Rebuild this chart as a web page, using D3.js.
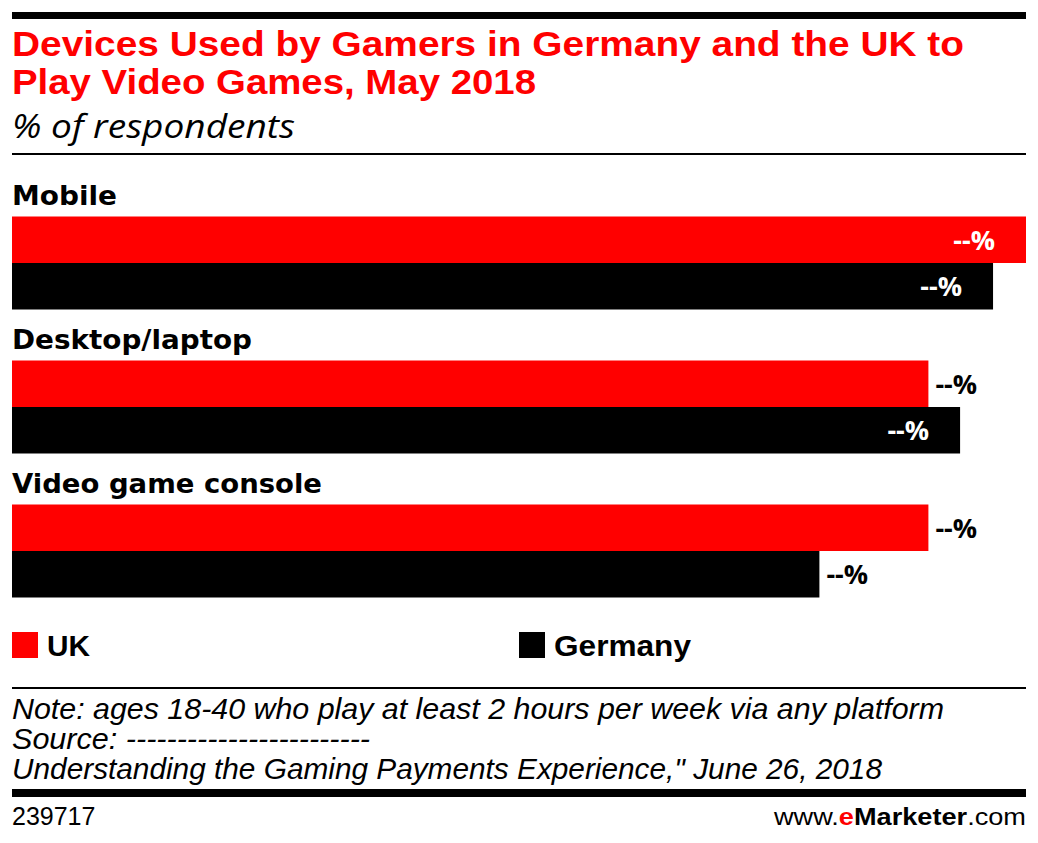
<!DOCTYPE html>
<html><head><meta charset="utf-8">
<script src="https://cdn.jsdelivr.net/npm/d3@7"></script>
<style>body{margin:0;background:#fff}svg{display:block}</style>
</head><body>
<script>
const categories = ["Mobile", "Desktop/laptop", "Video game console"];
const seriesNames = ["UK", "Germany"];
const ukValues = [80, 72.3, 72.3];
const germanyValues = [77.4, 74.8, 63.7];
const valueLabels = ["--%", "--%", "--%"];
const colors = ["#ff0000", "#000000"];

const W = 1038, H = 843, L = 12, R = 1026;
const svg = d3.select("body").append("svg").attr("width", W).attr("height", H);
const bold = "'Liberation Sans', Arial, sans-serif";
const narrow = "'Liberation Sans Narrow', 'Liberation Sans', sans-serif";

function fit(sel, len) {
  return sel.attr("textLength", len).attr("lengthAdjust", "spacingAndGlyphs");
}

svg.append("rect").attr("x", L).attr("y", 12).attr("width", R - L).attr("height", 7).attr("fill", "#000");
const title = svg.append("g").attr("font-family", bold).attr("font-weight", "bold").attr("font-size", 35).attr("fill", "#ff0000");
fit(title.append("text").attr("x", L).attr("y", 56).text("Devices Used by Gamers in Germany and the UK to"), 952);
fit(title.append("text").attr("x", L).attr("y", 94).text("Play Video Games, May 2018"), 524);
fit(svg.append("text").attr("x", L).attr("y", 138).attr("font-family", "'Open Sans', sans-serif").attr("font-style", "italic").attr("font-size", 32).attr("fill", "#000").text("% of respondents"), 283);
svg.append("rect").attr("x", L).attr("y", 153).attr("width", R - L).attr("height", 2).attr("fill", "#000");

const x = d3.scaleLinear().domain([0, 80]).range([L, R]);
const groupY = d3.scaleBand().domain(categories).range([171, 603]).paddingInner(0).paddingOuter(0);
const barH = 46.5;
const catLen = [105, 240, 310];

categories.forEach((c, i) => {
  const g0 = groupY(c);
  fit(svg.append("text").attr("x", L).attr("y", g0 + 34).attr("font-family", "'DejaVu Sans', sans-serif").attr("font-weight", "bold").attr("font-size", 27).text(c), catLen[i]);
  [ukValues[i], germanyValues[i]].forEach((v, j) => {
    const y0 = g0 + 45.5 + j * barH;
    svg.append("rect").attr("x", x(0)).attr("y", y0).attr("width", x(v) - x(0)).attr("height", barH).attr("fill", colors[j]);
    const inside = v > 73.5;
    svg.append("text")
      .attr("x", inside ? x(v) - 31 : x(v) + 7)
      .attr("y", y0 + 33)
      .attr("text-anchor", inside ? "end" : "start")
      .attr("font-family", "'Open Sans', sans-serif").attr("font-weight", "bold").attr("font-size", 27)
      .attr("fill", inside ? "#fff" : "#000").text(valueLabels[i]);
  });
});

// legend
const legX = [12, 519];
const legLen = [43, 137];
seriesNames.forEach((s, j) => {
  svg.append("rect").attr("x", legX[j]).attr("y", 632).attr("width", 26).attr("height", 26).attr("fill", colors[j]);
  fit(svg.append("text").attr("x", legX[j] + 35).attr("y", 656).attr("font-family", narrow).attr("font-weight", "bold").attr("font-size", 30).text(s), legLen[j]);
});

svg.append("rect").attr("x", L).attr("y", 687).attr("width", R - L).attr("height", 2).attr("fill", "#000");
const notes = ["Note: ages 18-40 who play at least 2 hours per week via any platform", "Source: ------------------------", "Understanding the Gaming Payments Experience,\" June 26, 2018"];
const noteLen = [932, 358, 870];
notes.forEach((t, i) => {
  fit(svg.append("text").attr("x", L).attr("y", 719 + i * 30).attr("font-family", narrow).attr("font-style", "italic").attr("font-size", 30).text(t), noteLen[i]);
});
svg.append("rect").attr("x", L).attr("y", 789).attr("width", R - L).attr("height", 8).attr("fill", "#000");
svg.append("text").attr("x", L).attr("y", 825).attr("font-family", narrow).attr("font-size", 25).text("239717");
const brand = svg.append("text").attr("x", 774).attr("y", 825).attr("font-family", bold).attr("font-size", 24);
brand.append("tspan").text("www.");
brand.append("tspan").attr("fill", "#ff0000").attr("font-weight", "bold").text("e");
brand.append("tspan").attr("font-weight", "bold").text("Marketer");
brand.append("tspan").text(".com");
fit(brand, 252);
</script>
</body></html>
